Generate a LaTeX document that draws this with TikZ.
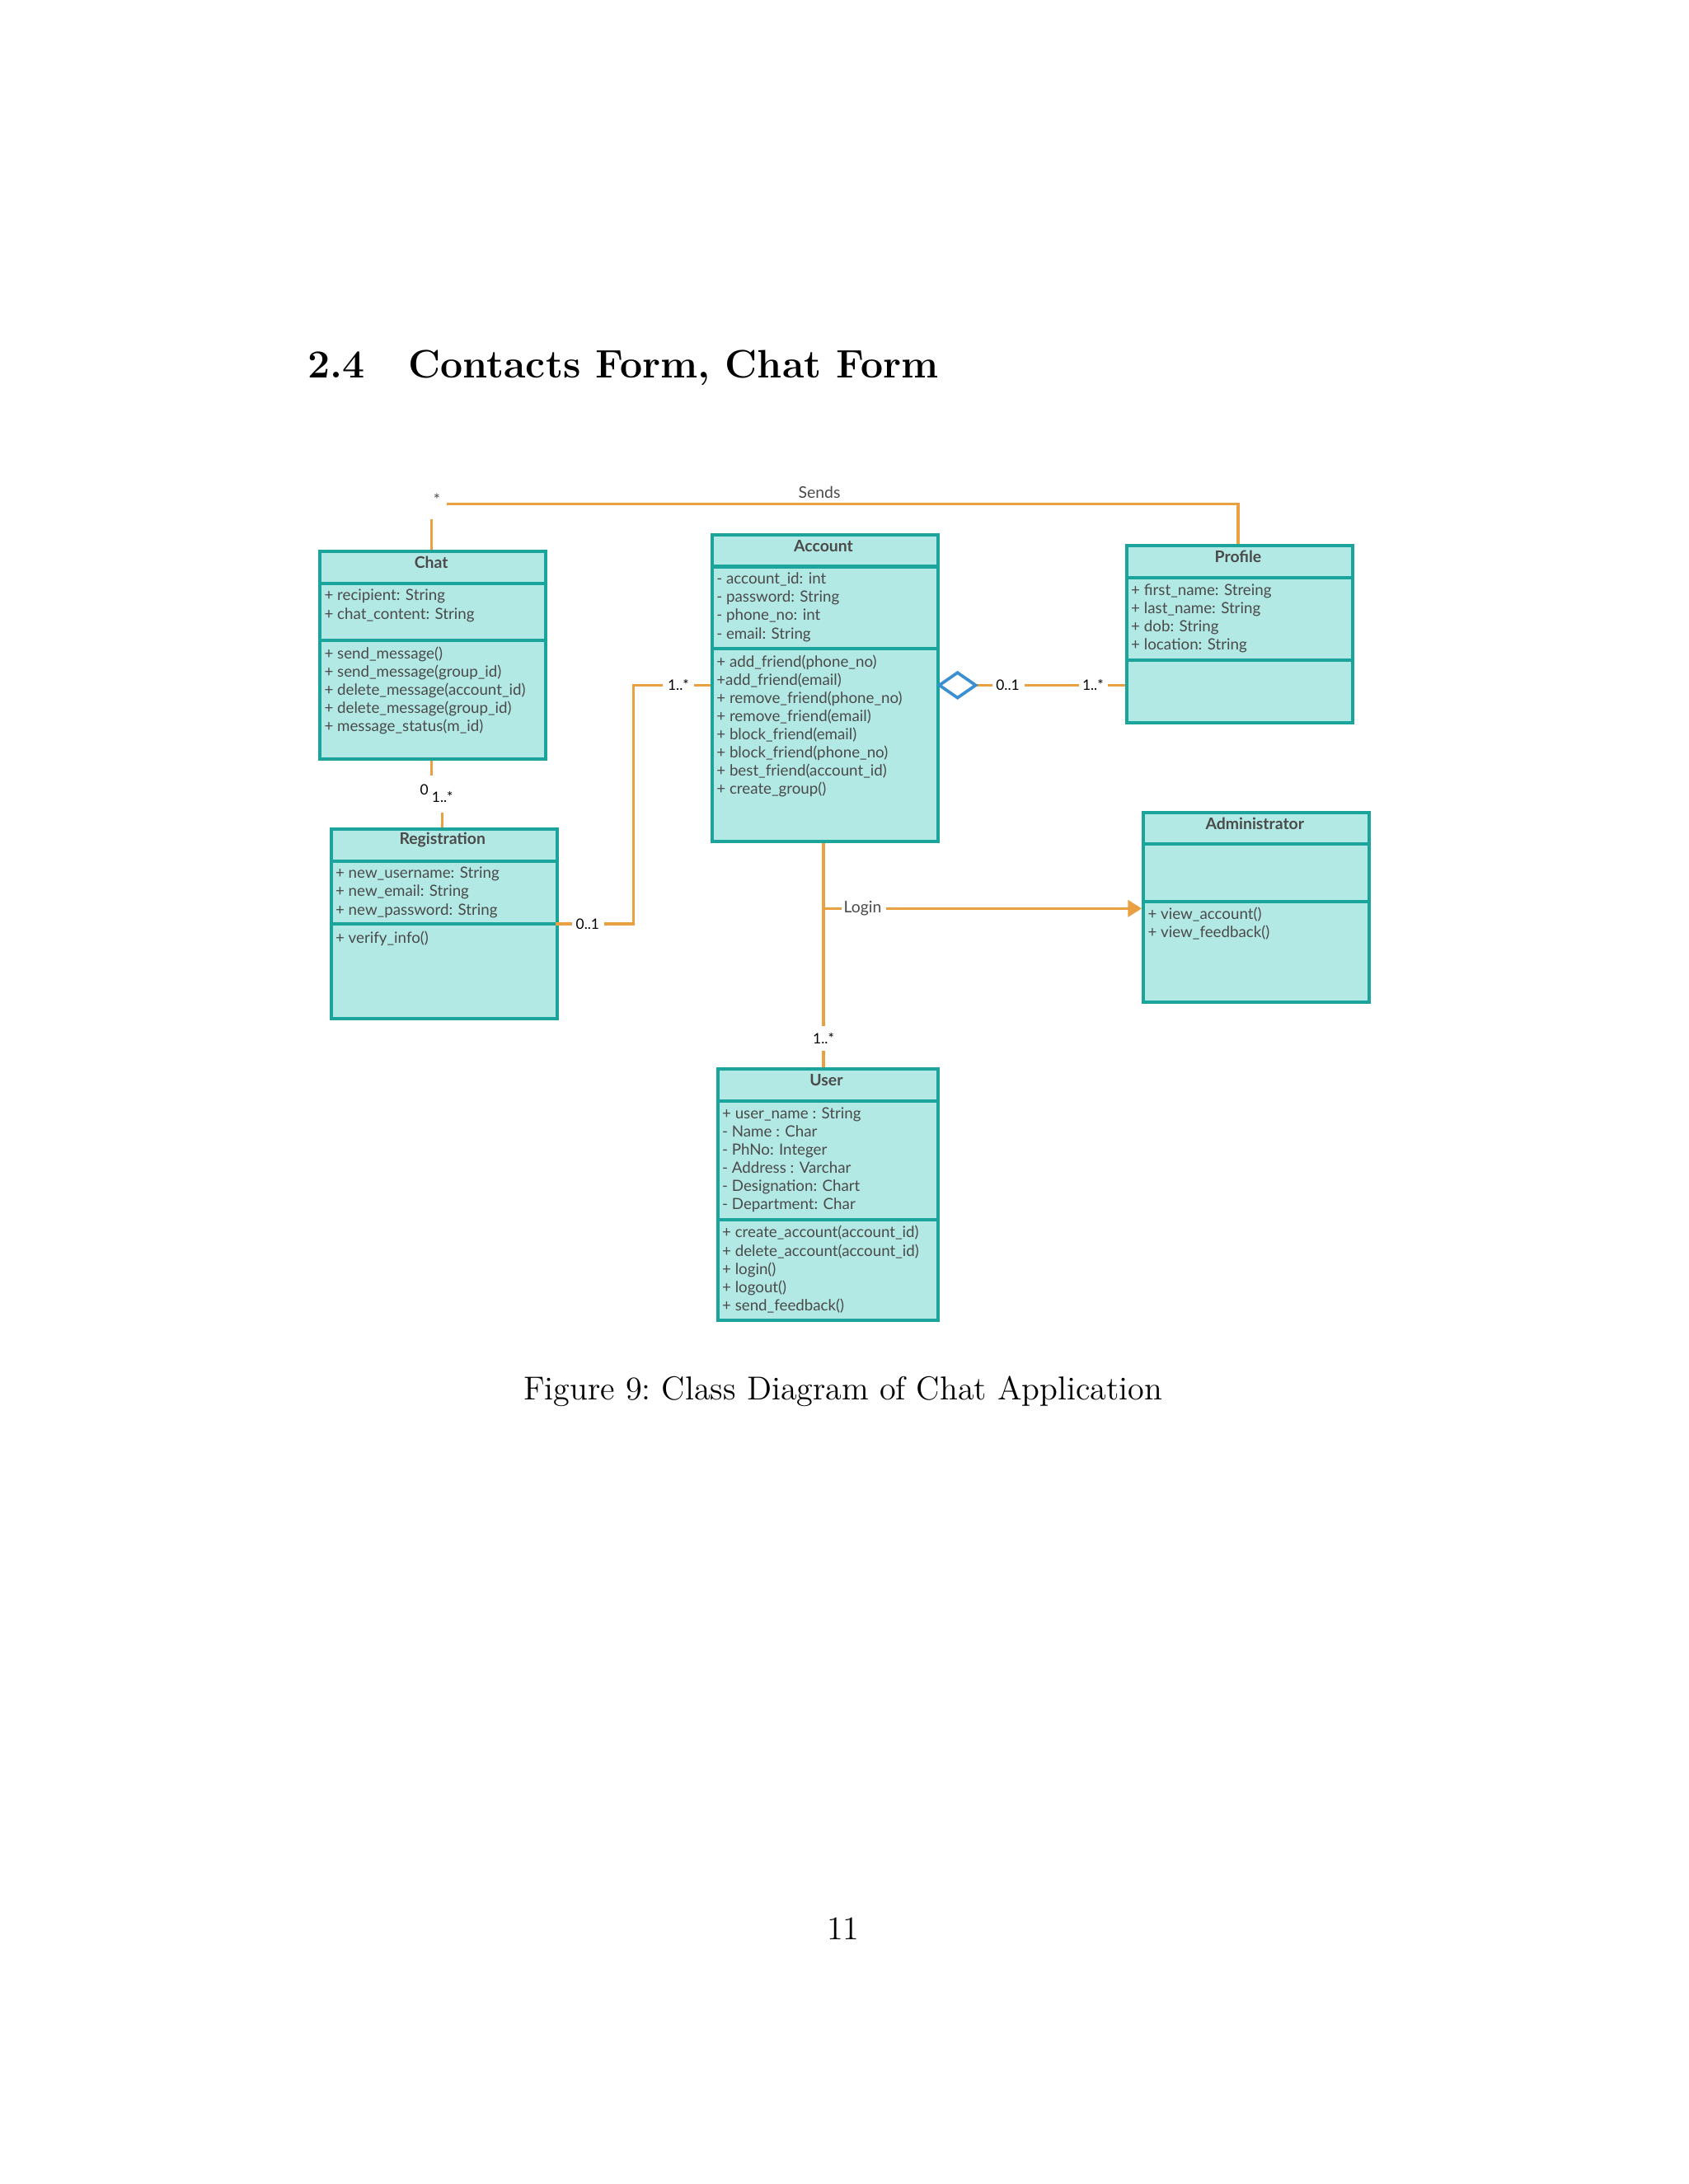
\documentclass[tikz,border=0pt]{standalone}
\usepackage{fontspec}
\newfontfamily\lato{Lato}
\usetikzlibrary{arrows.meta}
\definecolor{clsfill}{HTML}{B3E9E5}
\definecolor{clsdraw}{HTML}{1AA49C}
\definecolor{conn}{HTML}{E8A040}
\definecolor{txtc}{HTML}{4A4A4A}
\definecolor{diam}{HTML}{3A8FD3}
\def\u{0.506pt}
\tikzset{
 cls/.style={draw=clsdraw, fill=clsfill, line width=1.2pt, anchor=north west, inner sep=0pt},
 sep/.style={draw=clsdraw, line width=1.2pt},
 ttl/.style={font=\lato\bfseries\fontsize{5.8}{7}\selectfont, text=txtc, inner sep=0pt},
 txt/.style={font=\lato\fontsize{5.6}{6.6}\selectfont, text=txtc, anchor=north west, align=left, inner sep=0pt},
 lab/.style={font=\lato\fontsize{5.2}{6}\selectfont, text=black, inner sep=0pt},
 glab/.style={font=\lato\fontsize{5.8}{7}\selectfont, text=txtc, inner sep=0pt},
 wire/.style={draw=conn, line width=1pt},
}
\begin{document}
\begin{tikzpicture}[x=\u, y=-\u]
\useasboundingbox (0,0) rectangle (1210,1565);
% heading
\node[anchor=base west, inner sep=0pt, font=\fontsize{14.4}{17}\bfseries\selectfont] (h) at (220,271) {2.4\hspace{1.1em}Contacts Form, Chat Form};

% Chat
\node[cls, minimum width=162*\u, minimum height=149*\u] (chat) at (228,394) {};
\draw[sep] (228,418) -- (390,418) (228,459) -- (390,459);
\node[ttl] at (309,403) {Chat};
\node[txt] at (232,422) {+ recipient: String\\+ chat\_content: String};
\node[txt] at (232,463) {+ send\_message()\\+ send\_message(group\_id)\\+ delete\_message(account\_id)\\+ delete\_message(group\_id)\\+ message\_status(m\_id)};

% Registration
\node[cls, minimum width=162*\u, minimum height=136*\u] (reg) at (236,593) {};
\draw[sep] (236,617) -- (398,617) (236,662) -- (398,662);
\node[ttl] at (317,602) {Registration};
\node[txt] at (240,621) {+ new\_username: String\\+ new\_email: String\\+ new\_password: String};
\node[txt] at (240,667) {+ verify\_info()};

% Account
\node[cls, minimum width=162*\u, minimum height=220*\u] (acc) at (509,382) {};
\draw[sep] (509,406) -- (671,406) (509,465) -- (671,465);
\node[ttl] at (590,391) {Account};
\node[txt] at (513,410) {- account\_id: int\\- password: String\\- phone\_no: int\\- email: String};
\node[txt] at (513,469) {+ add\_friend(phone\_no)\\+add\_friend(email)\\+ remove\_friend(phone\_no)\\+ remove\_friend(email)\\+ block\_friend(email)\\+ block\_friend(phone\_no)\\+ best\_friend(account\_id)\\+ create\_group()};

% Profile
\node[cls, minimum width=162*\u, minimum height=127*\u] (prof) at (806,390) {};
\draw[sep] (806,414) -- (968,414) (806,473) -- (968,473);
\node[ttl] at (887,399) {Profile};
\node[txt] at (810,418) {+ first\_name: Streing\\+ last\_name: String\\+ dob: String\\+ location: String};

% Administrator
\node[cls, minimum width=162*\u, minimum height=136*\u] (adm) at (818,581) {};
\draw[sep] (818,605) -- (980,605) (818,646) -- (980,646);
\node[ttl] at (899,590) {Administrator};
\node[txt] at (822,650) {+ view\_account()\\+ view\_feedback()};

% User
\node[cls, minimum width=158*\u, minimum height=180*\u] (usr) at (513,765) {};
\draw[sep] (513,789) -- (671,789) (513,874) -- (671,874);
\node[ttl] at (592,774) {User};
\node[txt] at (517,793) {+ user\_name : String\\- Name : Char\\- PhNo: Integer\\- Address : Varchar\\- Designation: Chart\\- Department: Char};
\node[txt] at (517,878) {+ create\_account(account\_id)\\+ delete\_account(account\_id)\\+ login()\\+ logout()\\+ send\_feedback()};

% Sends
\node[glab] (star) at (313,358) {*};
\node[glab] (sends) at (587,353) {Sends};
\coordinate (s1) at (309,372);
\coordinate (s2) at (320,361);
\coordinate (s3) at (887,361);
\draw[wire] (chat.north -| s1) -- (s1);
\draw[wire] (s2) -- (s3) -- (prof.north -| s3);

% Chat - Registration
\node[lab] (z0) at (304,566) {0};
\node[lab] (z1) at (317,571) {1..*};
\coordinate (c1) at (309,556);
\coordinate (c2) at (317,582);
\draw[wire] (chat.south -| c1) -- (c1);
\draw[wire] (c2) -- (reg.north -| c2);

% Registration - Account
\node[lab] (r01) at (421,662) {0..1};
\node[lab] (r1s) at (486,491) {1..*};
\coordinate (ra) at (398,662);
\coordinate (rb) at (410,662);
\coordinate (rc) at (433,662);
\coordinate (rd) at (454,491);
\coordinate (re) at (475,491);
\coordinate (rf) at (497,491);
\draw[wire] (ra) -- (rb);
\draw[wire] (rc) -| (rd) -- (re);
\draw[wire] (rf) -- (acc.west |- rf);

% Account - Profile aggregation
\node[lab] (p01) at (722,491) {0..1};
\node[lab] (p1s) at (783,491) {1..*};
\coordinate (pa) at (699,491);
\coordinate (pb) at (711,491);
\coordinate (pc) at (734,491);
\coordinate (pd) at (773,491);
\coordinate (pe) at (794,491);
\draw[wire] (pa) -- (pb);
\draw[wire] (pc) -- (pd);
\draw[wire] (pe) -- (prof.west |- pe);
\draw[diam, line width=1.1pt, fill=white] (673,491) -- (686,482) -- (699,491) -- (686,500) -- cycle;

% Account - User
\node[lab] (u1s) at (590,744) {1..*};
\coordinate (ua) at (590,735);
\coordinate (ub) at (590,753);
\coordinate (lg) at (590,651);
\draw[wire] (acc.south -| ua) -- (ua);
\draw[wire] (ub) -- (usr.north -| ub);

% Login
\node[glab] (login) at (618,651) {Login};
\coordinate (la) at (603,651);
\coordinate (lb) at (635,651);
\draw[wire] (lg) -- (la);
\draw[wire, -{Triangle[length=5pt,width=6pt]}, draw=conn, fill=conn] (lb) -- (adm.west |- lb);

% caption and page number
\node[anchor=base, inner sep=0pt, font=\fontsize{12}{14}\selectfont] (cap) at (604,1003) {Figure 9:\ Class Diagram of Chat Application};
\node[anchor=base, inner sep=0pt, font=\fontsize{12}{14}\selectfont] (pg) at (604,1390) {11};
\end{tikzpicture}
\end{document}
